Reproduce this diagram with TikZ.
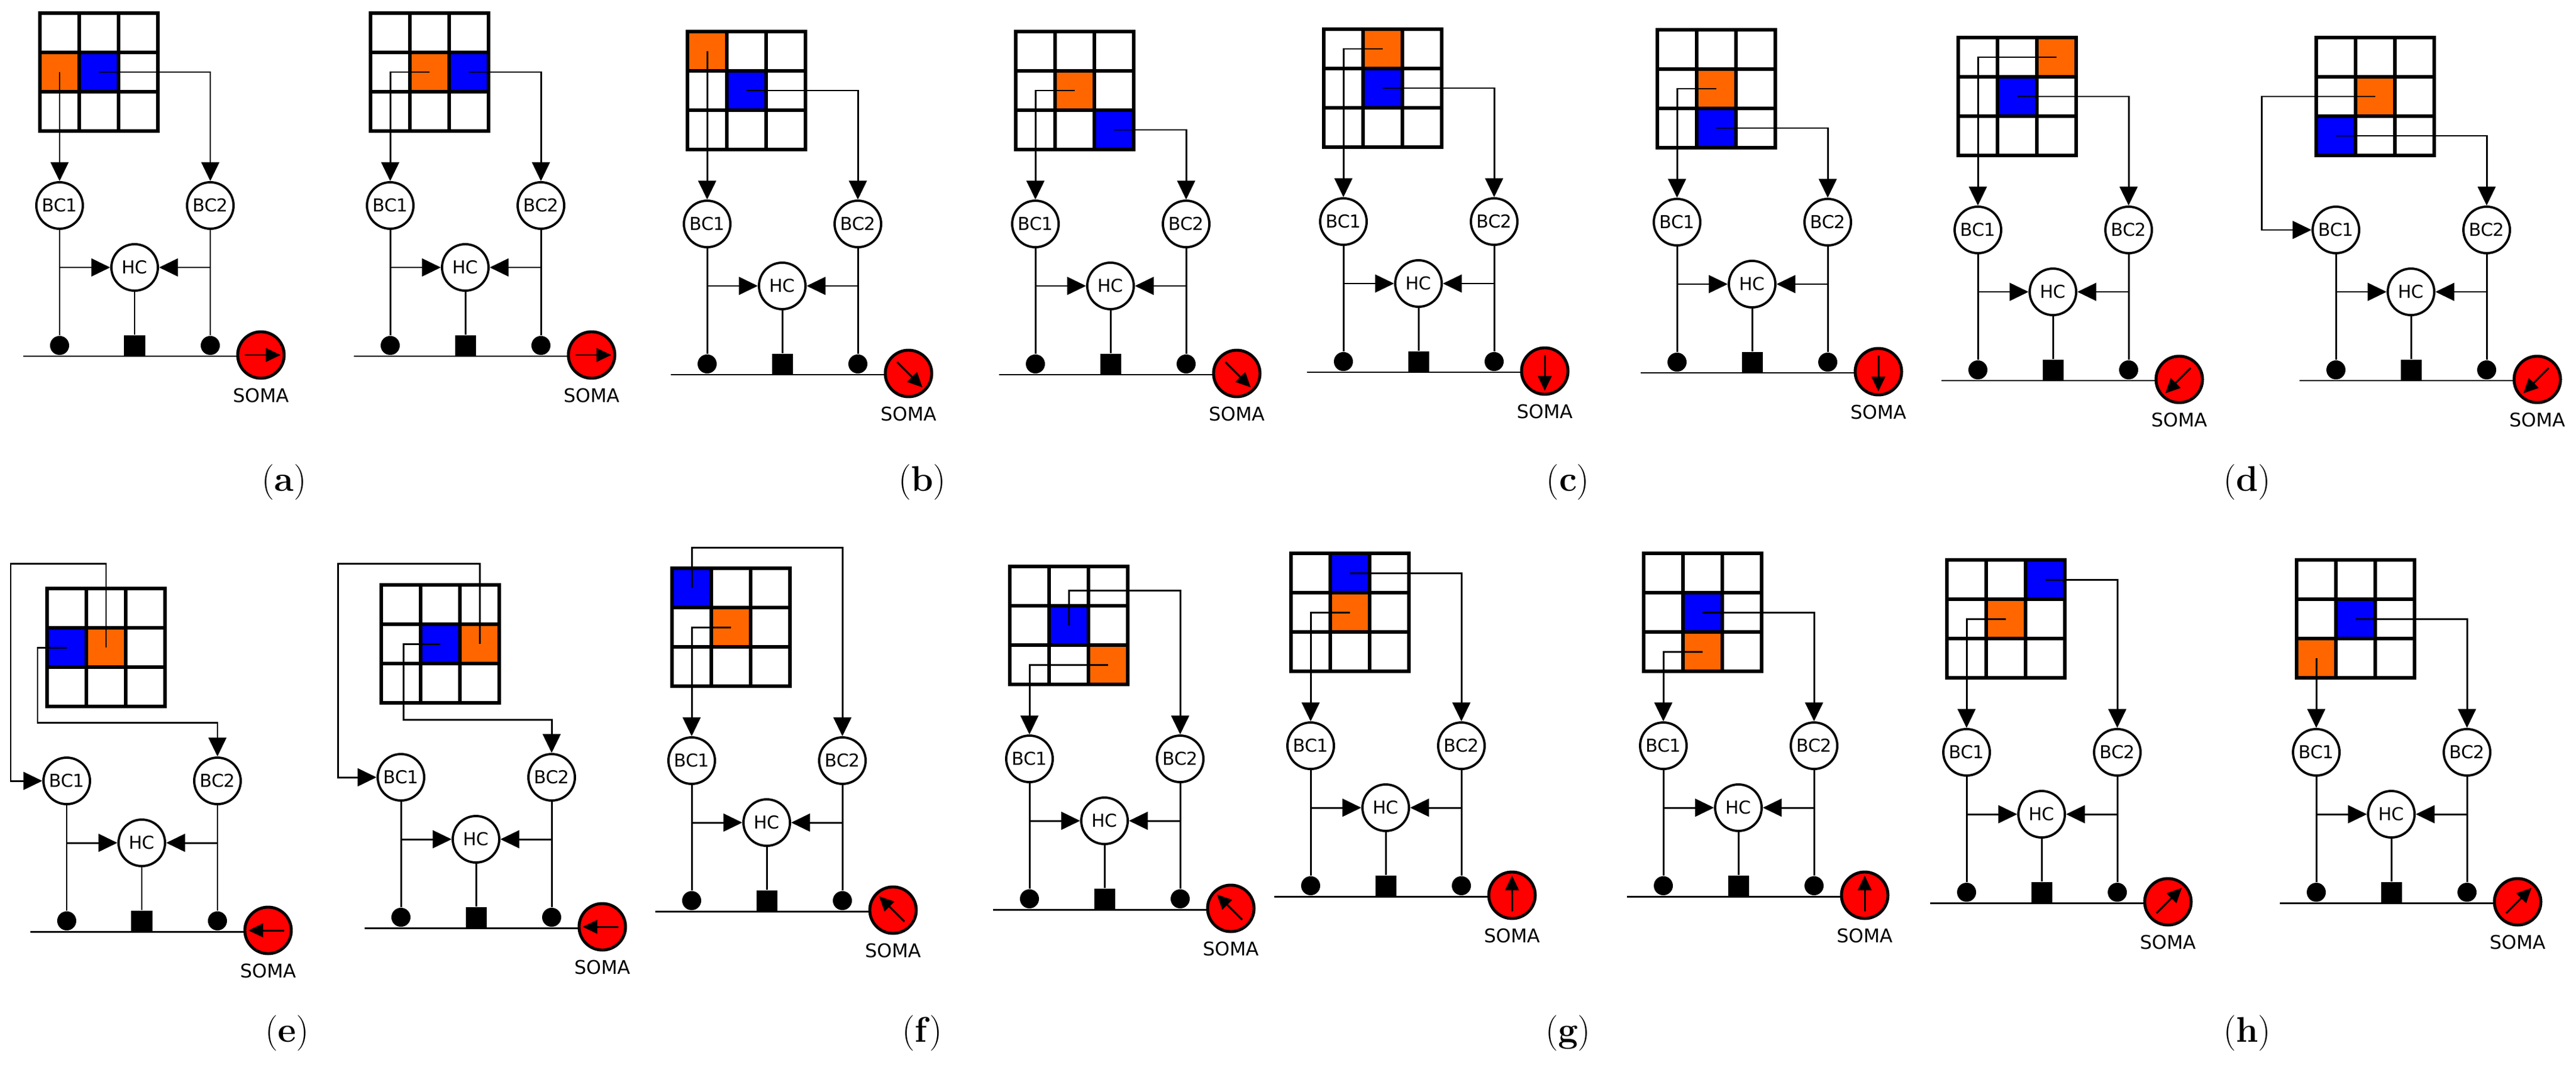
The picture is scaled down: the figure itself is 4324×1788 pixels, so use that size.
\documentclass[tikz,border=0pt]{standalone}
\usepackage{fontspec}
\setsansfont{DejaVu Sans}
\usetikzlibrary{arrows.meta,calc}
\definecolor{orng}{RGB}{255,102,0}
\definecolor{blu}{RGB}{0,0,255}
\definecolor{soma}{RGB}{255,0,0}
\tikzset{
 gridline/.style={line width=1.7pt},
 w/.style={line width=0.85pt},
 wa/.style={line width=0.85pt,-{Triangle[length=9pt,width=8.5pt]}},
 cell/.style={circle,draw,line width=1.1pt,fill=white,minimum size=0.78cm,inner sep=0pt,font=\sffamily\fontsize{8.5}{9}\selectfont},
 somac/.style={circle,draw,line width=1.4pt,fill=soma,minimum size=0.78cm,inner sep=0pt},
 dot/.style={circle,fill=black,minimum size=0.32cm,inner sep=0pt},
 sq/.style={rectangle,fill=black,minimum size=0.35cm,inner sep=0pt},
 sarr/.style={line width=0.85pt,-{Triangle[length=7pt,width=6.5pt]}},
 lab/.style={font=\sffamily\fontsize{9}{10}\selectfont},
 capt/.style={font=\fontsize{17}{20}\selectfont}
}
\newcommand\panel[9]{%
\begin{scope}[shift={(#1,#2)},name prefix=#3-]
 \fill[orng] (#4*66,#5*66) rectangle ++(66,66);
 \fill[blu] (#6*66,#7*66) rectangle ++(66,66);
 \foreach \k in {0,66,132,198}{
  \draw[gridline] (\k,0) -- (\k,198);
  \draw[gridline] (0,\k) -- (198,\k);}
 \draw[gridline] (0,0) rectangle (198,198);
 \coordinate (O) at (#4*66+33,#5*66+33);
 \coordinate (B) at (#6*66+33,#7*66+33);
 \coordinate (L) at (-28,576);
 \node[dot] (d1) at (33,558) {};
 \node[dot] (d2) at (286,558) {};
 \node[sq] (sq) at (159,558.5) {};
 \node[somac] (s) at (371,574) {};
 \draw[w] (L) -- (L -| s.west);
 \draw[sarr] ([shift={(#8+180:27)}]s.center) -- ([shift={(#8:33)}]s.center);
 \node[lab] (sl) at (371,642) {SOMA};
 \node[cell] (bc1) at (33,323) {BC1};
 \node[cell] (bc2) at (286,323) {BC2};
 \node[cell] (hc) at (159,427) {HC};
 \draw[w] (bc1) -- (d1);
 \draw[w] (bc2) -- (d2);
 \draw[w] (hc) -- (sq);
 \draw[wa] (bc1 |- hc) -- (hc.west);
 \draw[wa] (bc2 |- hc) -- (hc.east);
 #9
\end{scope}}
\newcommand\Ldown{\draw[wa] (O) -| (bc1.north);}
\newcommand\Sdown{\draw[wa] (O) -- (bc1.north);}
\newcommand\Rdown{\draw[wa] (B) -| (bc2.north);}
\begin{document}
\begin{tikzpicture}[x=0.01cm,y=-0.01cm]
\useasboundingbox (0,0) rectangle (4324,1788);
\panel{67}{22}{p1}{0}{1}{1}{1}{0}{\Sdown\Rdown}
\panel{622}{22}{p2}{1}{1}{2}{1}{0}{\Ldown\Rdown}
\panel{1154}{53}{p3}{0}{0}{1}{1}{45}{\Sdown\Rdown}
\panel{1705}{53}{p4}{1}{1}{2}{2}{45}{\Ldown\Rdown}
\panel{2222}{49}{p5}{1}{0}{1}{1}{90}{\Ldown\Rdown}
\panel{2782}{50}{p6}{1}{1}{1}{2}{90}{\Ldown\Rdown}
\panel{3287}{63}{p7}{2}{0}{1}{1}{135}{\Ldown\Rdown}
\panel{3888}{63}{p8}{1}{1}{0}{2}{135}{\coordinate (k) at (-92,0);
  \draw[wa] (O) -| (k |- bc1) -- (bc1.west);\Rdown}
\panel{79}{988}{p9}{1}{1}{0}{1}{180}{\coordinate (k1) at (-61,-42);\coordinate (k2) at (-16,225);
  \draw[wa] (O) |- (k1) |- (bc1.west);
  \draw[wa] (B) -| (k2) -| (bc2.north);}
\panel{640}{982}{p10}{2}{1}{1}{1}{180}{\coordinate (k1) at (-73,-36);\coordinate (k2) at (37,226);
  \draw[wa] (O) |- (k1) |- (bc1.west);
  \draw[wa] (B) -| (k2) -| (bc2.north);}
\panel{1128}{954}{p11}{1}{1}{0}{0}{225}{\coordinate (k) at (0,-35);
  \Ldown\draw[wa] (B) -- (B |- k) -| (bc2.north);}
\panel{1695}{951}{p12}{2}{2}{1}{1}{225}{\coordinate (k) at (0,40);
  \Ldown\draw[wa] (B) -- (B |- k) -| (bc2.north);}
\panel{2167}{929}{p13}{1}{1}{1}{0}{270}{\Ldown\Rdown}
\panel{2759}{929}{p14}{1}{2}{1}{1}{270}{\Ldown\Rdown}
\panel{3268}{940}{p15}{1}{1}{2}{0}{315}{\Ldown\Rdown}
\panel{3855}{940}{p16}{0}{2}{1}{1}{315}{\Sdown\Rdown}
\node[capt] (ca) at (477,810) {(\textbf{a})};
\node[capt] (cb) at (1548,810) {(\textbf{b})};
\node[capt] (cc) at (2632,810) {(\textbf{c})};
\node[capt] (cd) at (3772,810) {(\textbf{d})};
\node[capt] (ce) at (482,1735) {(\textbf{e})};
\node[capt] (cf) at (1548,1735) {(\textbf{f})};
\node[capt] (cg) at (2632,1735) {(\textbf{g})};
\node[capt] (ch) at (3772,1735) {(\textbf{h})};
\end{tikzpicture}
\end{document}
